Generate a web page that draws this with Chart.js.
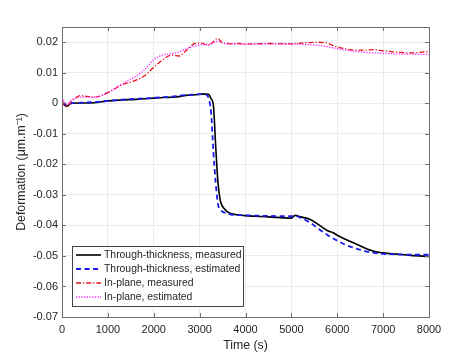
<!DOCTYPE html>
<html><head><meta charset="utf-8">
<script src="https://cdn.jsdelivr.net/npm/chart.js@4.4.0/dist/chart.umd.min.js"></script>
<style>html,body{margin:0;padding:0;background:#fff}#wrap{width:474px;height:355px}</style>
</head><body><div id="wrap"><canvas id="c" width="474" height="355"></canvas></div>
<script>
const time = [0,50,100,200,400,700,1000,1300,1600,1800,2000,2200,2400,2550,2700,2900,3050,3150,3200,3250,3300,3350,3400,3450,3500,3600,3700,3850,4000,4500,5000,5080,5200,5400,5600,5800,5900,6000,6200,6400,6600,6800,7000,7300,7600,8000];
const thruMeasured = [0,-0.0005,-0.001,0,0.0001,0.0002,0.0008,0.0011,0.0013,0.0015,0.0017,0.0019,0.002,0.0022,0.0026,0.0028,0.003,0.003,0.0029,0.0015,-0.0006,-0.014,-0.026,-0.0318,-0.0338,-0.0355,-0.0362,-0.0366,-0.0368,-0.0372,-0.0376,-0.0367,-0.0372,-0.038,-0.0398,-0.0418,-0.0423,-0.0432,-0.0447,-0.046,-0.0474,-0.0485,-0.049,-0.0494,-0.0498,-0.0502];
const thruEstimated = [0,0,-0.0005,0,0.0002,0.0004,0.0008,0.0012,0.0015,0.0016,0.0018,0.002,0.0022,0.0025,0.0027,0.0029,0.003,0.0028,0.0015,-0.003,-0.0158,-0.026,-0.033,-0.0348,-0.0355,-0.036,-0.0365,-0.0366,-0.0367,-0.0369,-0.037,-0.0369,-0.0375,-0.039,-0.0412,-0.0433,-0.0442,-0.045,-0.0465,-0.0475,-0.0484,-0.049,-0.0493,-0.0495,-0.0496,-0.0496];
const inMeasured = [0.001,-0.0005,-0.001,0.0005,0.0025,0.002,0.0035,0.006,0.0075,0.009,0.0118,0.0143,0.0158,0.0155,0.0172,0.0196,0.0197,0.019,0.019,0.0195,0.0202,0.021,0.0212,0.0205,0.0198,0.0196,0.0195,0.0196,0.0194,0.0196,0.0195,0.0196,0.0197,0.0199,0.02,0.0196,0.019,0.0184,0.0178,0.0174,0.0174,0.0176,0.0172,0.0168,0.0165,0.017];
const inEstimated = [0.002,0.0005,-0.0003,0.001,0.002,0.002,0.0035,0.0063,0.0088,0.011,0.0143,0.0158,0.0163,0.0168,0.0178,0.0188,0.0192,0.0193,0.0193,0.0195,0.0198,0.0202,0.0203,0.02,0.0197,0.0195,0.0195,0.0195,0.0194,0.0195,0.0194,0.0194,0.0193,0.0192,0.019,0.0185,0.0182,0.0179,0.0174,0.017,0.0167,0.0165,0.0164,0.0162,0.0161,0.016];
const seriesLabels = ['Through-thickness, measured','Through-thickness, estimated','In-plane, measured','In-plane, estimated'];
const xTicks = [0,1000,2000,3000,4000,5000,6000,7000,8000];
const yTicks = [-0.07,-0.06,-0.05,-0.04,-0.03,-0.02,-0.01,0,0.01,0.02];

const FONT = "'Liberation Sans', Arial, sans-serif";
const TXT = '#262626';
const AX = '#6e6e6e';
const pts = arr => time.map((t,i)=>({x:t,y:arr[i]}));

const styles = [
  {borderColor:'#000000', borderWidth:1.6, borderDash:[], order:4},
  {borderColor:'#1a1aee', borderWidth:1.8, borderDash:[5,3.5], order:3},
  {borderColor:'#e8101a', borderWidth:1.3, borderDash:[5,2,1.2,2], order:2},
  {borderColor:'#ff22ff', borderWidth:1.3, borderDash:[1.2,1.5], order:1}
];
const datasets = [thruMeasured,thruEstimated,inMeasured,inEstimated].map((d,i)=>Object.assign({
  label: seriesLabels[i], data: pts(d), pointRadius:0, fill:false, tension:0,
  cubicInterpolationMode:'monotone'
}, styles[i]));

const boxPlugin = {
  id:'box',
  afterDatasetsDraw(chart){
    const {ctx, chartArea:a, scales:{x,y}} = chart;
    ctx.save();
    ctx.strokeStyle = AX; ctx.lineWidth = 1;
    ctx.strokeRect(Math.round(a.left)+0.5, Math.round(a.top)+0.5, Math.round(a.right-a.left), Math.round(a.bottom-a.top));
    const L = 4;
    ctx.beginPath();
    xTicks.forEach(v=>{const px=Math.round(x.getPixelForValue(v))+0.5;
      ctx.moveTo(px,a.bottom); ctx.lineTo(px,a.bottom-L);
      ctx.moveTo(px,a.top); ctx.lineTo(px,a.top+L);});
    yTicks.forEach(v=>{const py=Math.round(y.getPixelForValue(v))+0.5;
      ctx.moveTo(a.left,py); ctx.lineTo(a.left+L,py);
      ctx.moveTo(a.right,py); ctx.lineTo(a.right-L,py);});
    ctx.stroke();
    // legend
    const lx=72, ly=246, lw=171, lh=60;
    ctx.fillStyle='#fff'; ctx.fillRect(lx,ly,lw,lh);
    ctx.strokeStyle='#444'; ctx.lineWidth=1;
    ctx.strokeRect(lx+0.5,ly+0.5,lw,lh);
    ctx.font = "10.4px "+FONT; ctx.textBaseline='middle'; ctx.textAlign='left';
    chart.data.datasets.forEach((ds,i)=>{
      const yy = 255 + i*14;
      ctx.strokeStyle = ds.borderColor; ctx.lineWidth = ds.borderWidth;
      ctx.setLineDash(ds.borderDash||[]);
      ctx.beginPath(); ctx.moveTo(76,yy); ctx.lineTo(101,yy); ctx.stroke();
      ctx.setLineDash([]);
      ctx.fillStyle = TXT; ctx.fillText(ds.label, 104, yy);
    });
    ctx.restore();
  }
};

new Chart(document.getElementById('c'), {
  type:'line',
  data:{datasets},
  options:{
    responsive:false, animation:false, devicePixelRatio:1,
    layout:{padding:{top:27,right:45,left:0,bottom:0}},
    plugins:{legend:{display:false}, tooltip:{enabled:false}},
    scales:{
      x:{type:'linear', min:0, max:8000,
        afterBuildTicks:s=>{s.ticks = xTicks.map(v=>({value:v}));},
        afterFit:s=>{s.height=38;},
        grid:{color:'#ebebeb', drawTicks:false}, border:{display:false},
        ticks:{color:TXT, font:{family:FONT,size:11}, padding:6, maxRotation:0, callback:v=>String(v)},
        title:{display:true, text:'Time (s)', color:TXT, font:{family:FONT,size:12.3}, padding:{top:0,bottom:2}}
      },
      y:{type:'linear', min:-0.07, max:0.025,
        afterBuildTicks:s=>{s.ticks = yTicks.map(v=>({value:v}));},
        afterFit:s=>{s.width=62;},
        grid:{color:'#ebebeb', drawTicks:false}, border:{display:false},
        ticks:{color:TXT, font:{family:FONT,size:11}, padding:4, callback:v=>String(Math.round(v*100)/100)},
        title:{display:true, text:'Deformation (\u03bcm.m\u207b\u00b9)', color:TXT, font:{family:FONT,size:12.3}, padding:{top:14,bottom:0}}
      }
    }
  },
  plugins:[boxPlugin]
});
</script></body></html>
